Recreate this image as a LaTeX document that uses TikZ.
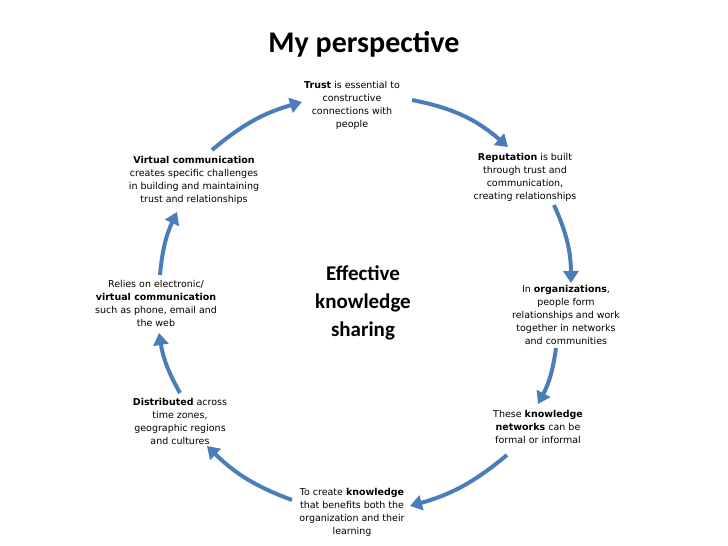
\documentclass[tikz,border=0pt]{standalone}
\usepackage{fontspec}
\setmainfont{DejaVu Sans}
\newfontfamily\titlefont{Carlito}
\usetikzlibrary{arrows.meta}
\begin{document}
\begin{tikzpicture}[x=1pt,y=-1pt,
  lbl/.style={align=center,font=\fontsize{9.5}{13}\selectfont,inner sep=0pt},
  cyc/.style={line width=4pt,color=arrowblue,-{Triangle[length=12pt,width=15pt]}}]
\definecolor{arrowblue}{HTML}{4A7EBB}
\useasboundingbox (0,0) rectangle (728,546);
\node[font=\titlefont\bfseries\fontsize{30}{34}\selectfont] (title) at (364,44) {My perspective};
\node[lbl] (trust) at (352,105) {\textbf{Trust} is essential to\\constructive\\connections with\\people};
\node[lbl] (rep) at (525,177) {\textbf{Reputation} is built\\through trust and\\communication,\\creating relationships};
\node[lbl] (org) at (566,315) {In \textbf{organizations},\\people form\\relationships and work\\together in networks\\and communities};
\node[lbl] (net) at (538,427) {These \textbf{knowledge}\\\textbf{networks} can be\\formal or informal};
\node[lbl] (create) at (352,512) {To create \textbf{knowledge}\\that benefits both the\\organization and their\\learning};
\node[lbl] (dist) at (180,421) {\textbf{Distributed} across\\time zones,\\geographic regions\\and cultures};
\node[lbl] (relies) at (156,303) {Relies on electronic/\\\textbf{virtual communication}\\such as phone, email and\\the web};
\node[lbl] (virt) at (194,180) {\textbf{Virtual communication}\\creates specific challenges\\in building and maintaining\\trust and relationships};
\node[align=center,font=\titlefont\bfseries\fontsize{21}{28}\selectfont] (center) at (363,303) {Effective\\knowledge\\sharing};
\coordinate (a1) at (412,100); \coordinate (b1) at (508,147);
\coordinate (a2) at (554,205); \coordinate (b2) at (571,283);
\coordinate (a3) at (556,348); \coordinate (b3) at (538,404);
\coordinate (a4) at (507,455); \coordinate (b4) at (410,506);
\coordinate (a5) at (292,500); \coordinate (b5) at (207,446);
\coordinate (a6) at (180,393); \coordinate (b6) at (159,333);
\coordinate (a7) at (160,275); \coordinate (b7) at (177,212);
\coordinate (a8) at (212,150); \coordinate (b8) at (302,102);
\draw[cyc] (a1) to[bend left=15] (b1);
\draw[cyc] (a2) to[bend left=12] (b2);
\draw[cyc] (a3) to[bend left=10] (b3);
\draw[cyc] (a4) to[bend left=12] (b4);
\draw[cyc] (a5) to[bend left=12] (b5);
\draw[cyc] (a6) to[bend left=10] (b6);
\draw[cyc] (a7) to[bend left=10] (b7);
\draw[cyc] (a8) to[bend left=12] (b8);
\end{tikzpicture}
\end{document}
